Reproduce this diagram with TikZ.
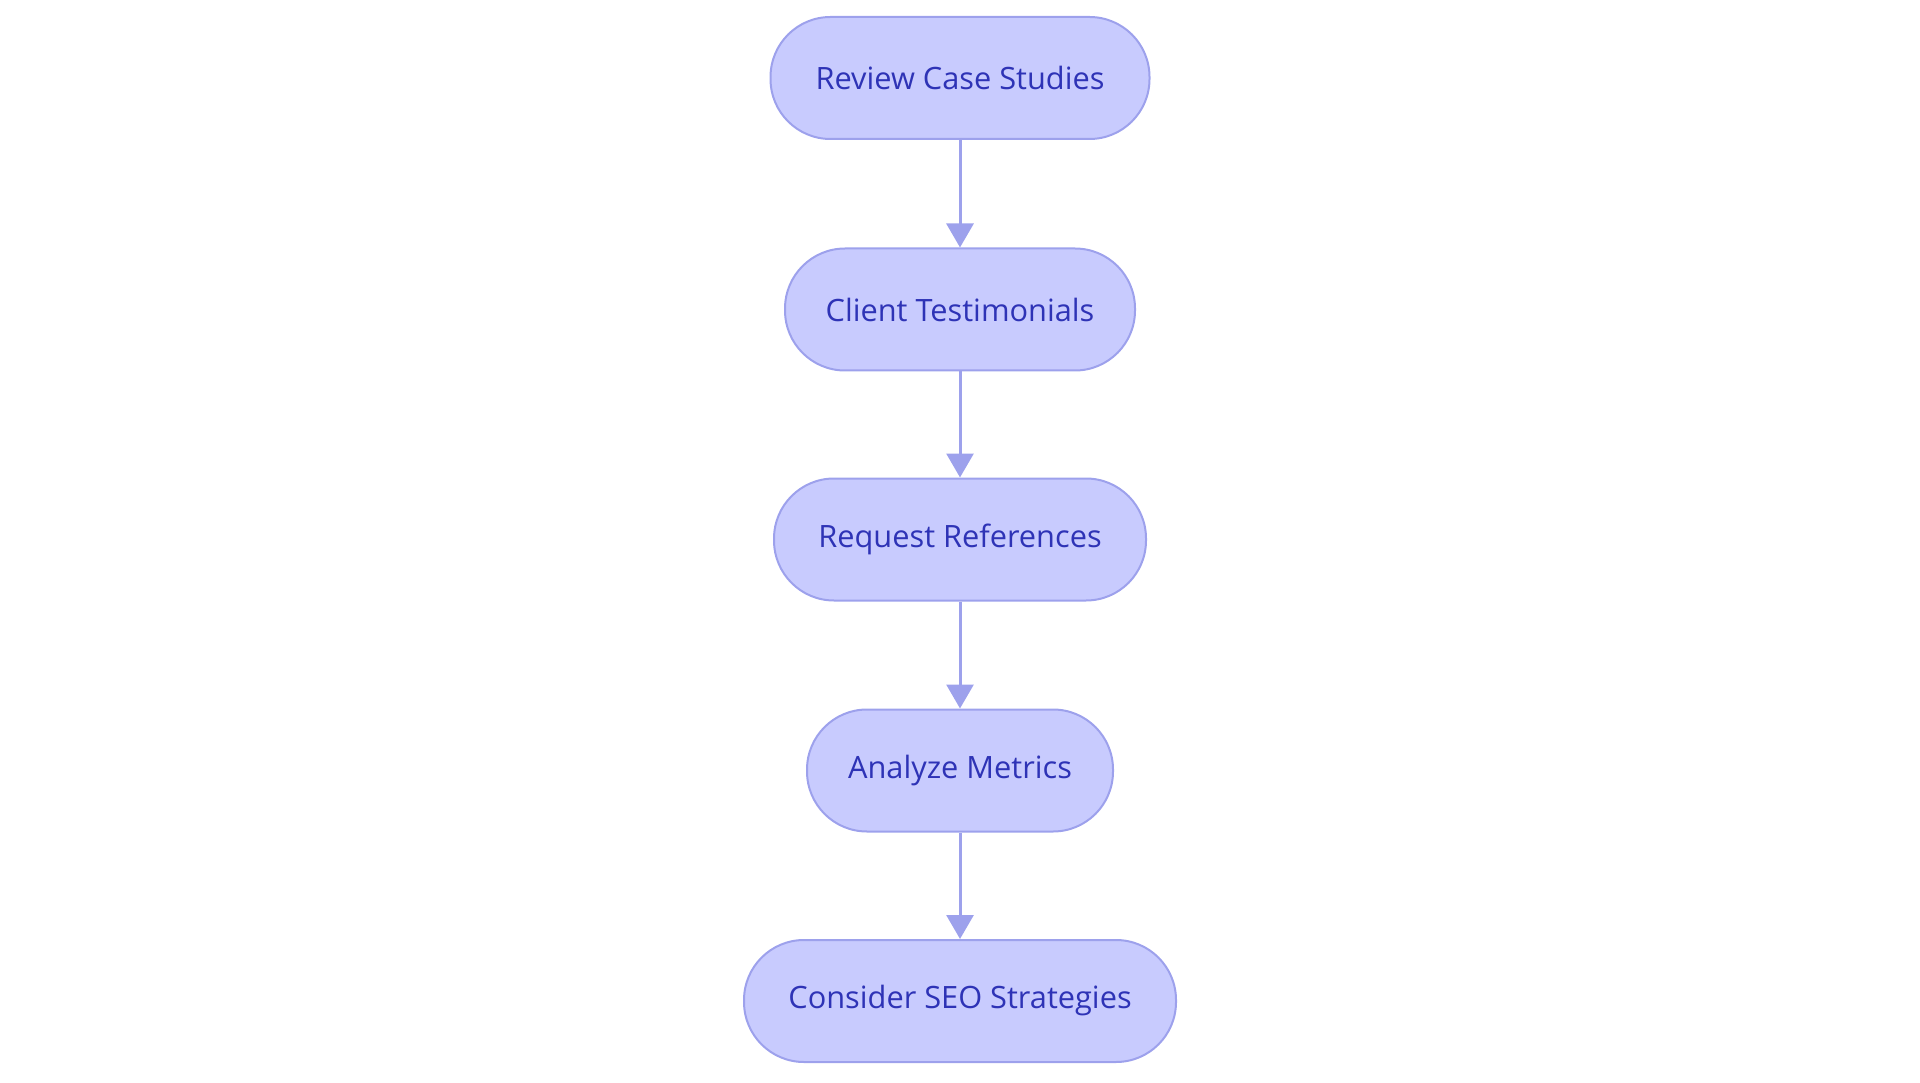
\documentclass[tikz,border=0pt]{standalone}
\usepackage{fontspec}
\setmainfont{Open Sans}
\usetikzlibrary{arrows.meta, positioning}
\definecolor{stepfill}{HTML}{C8CBFE}
\definecolor{stepline}{HTML}{9DA1EC}
\definecolor{steptext}{HTML}{2E33B6}

\begin{document}
\begin{tikzpicture}[->,>={Triangle[width=0.54cm,length=0.48cm]},
	stepbox/.style={align=center, draw=stepline, fill=stepfill, text=steptext, line width=0.04cm, rounded corners=1.2cm, minimum height=2.44cm, font=\fontsize{17.5}{21}\selectfont},
	link/.style={draw=stepline, line width=0.06cm}]
	\useasboundingbox (0,0) rectangle (38.4,-21.66);
	\node[stepbox, minimum width=7.58cm] at (19.2, -1.56) (review) {Review Case Studies};
	\node[stepbox, minimum width=7.0cm] at (19.2, -6.19) (testimonials) {Client Testimonials};
	\node[stepbox, minimum width=7.44cm] at (19.2, -10.79) (references) {Request References};
	\node[stepbox, minimum width=6.12cm] at (19.2, -15.41) (metrics) {Analyze Metrics};
	\node[stepbox, minimum width=8.64cm] at (19.2, -20.02) (seo) {Consider SEO Strategies};
	\draw[link] (review) -- (testimonials);
	\draw[link] (testimonials) -- (references);
	\draw[link] (references) -- (metrics);
	\draw[link] (metrics) -- (seo);
\end{tikzpicture}
\end{document}
